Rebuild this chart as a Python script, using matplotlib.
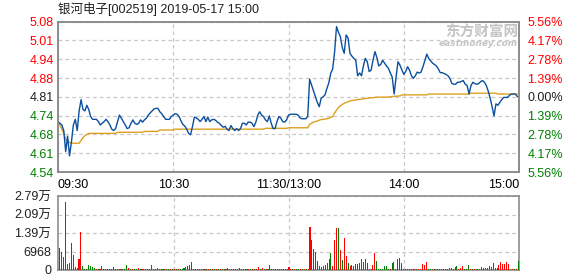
import matplotlib
matplotlib.use("Agg")
import matplotlib.pyplot as plt
import numpy as np

FONT = ['Liberation Sans', 'Noto Sans CJK SC', 'DejaVu Sans']
plt.rcParams['font.family'] = FONT

title = "银河电子[002519] 2019-05-17 15:00"
prev_close = 4.81
pct_levels = [5.56, 4.17, 2.78, 1.39, 0.0, -1.39, -2.78, -4.17, -5.56]
price_labels = ["5.08", "5.01", "4.94", "4.88", "4.81", "4.74", "4.68", "4.61", "4.54"]
pct_labels = ["5.56%", "4.17%", "2.78%", "1.39%", "0.00%", "1.39%", "2.78%", "4.17%", "5.56%"]
time_ticks = [0, 60, 120, 180, 240]
time_labels = ["09:30", "10:30", "11:30/13:00", "14:00", "15:00"]
vol_ticks = [0, 6968, 13936, 20904, 27872]
vol_labels = ["0", "6968", "1.39万", "2.09万", "2.79万"]

# one value per minute, 09:30 .. 15:00
price = [
    4.72, 4.716, 4.71, 4.69, 4.615, 4.67, 4.60, 4.65, 4.71, 4.73, 4.69, 4.76, 4.80, 4.765, 4.76, 4.78, 4.765, 4.74, 4.73, 4.73,
    4.73, 4.722, 4.71, 4.716, 4.722, 4.73, 4.722, 4.71, 4.695, 4.69, 4.697, 4.722, 4.745, 4.734, 4.722, 4.71, 4.697, 4.70, 4.716, 4.728,
    4.716, 4.712, 4.716, 4.728, 4.72, 4.728, 4.734, 4.745, 4.753, 4.76, 4.767, 4.769, 4.769, 4.757, 4.75, 4.74, 4.73, 4.73, 4.73, 4.74,
    4.745, 4.75, 4.748, 4.74, 4.725, 4.712, 4.706, 4.695, 4.68, 4.675, 4.704, 4.738, 4.735, 4.73, 4.722, 4.73, 4.74, 4.722, 4.738, 4.722,
    4.728, 4.73, 4.727, 4.72, 4.716, 4.708, 4.702, 4.705, 4.695, 4.69, 4.708, 4.697, 4.69, 4.697, 4.69, 4.697, 4.716, 4.716, 4.71, 4.72,
    4.72, 4.716, 4.704, 4.72, 4.745, 4.757, 4.745, 4.74, 4.728, 4.722, 4.742, 4.716, 4.697, 4.697, 4.722, 4.74, 4.734, 4.722, 4.72, 4.728,
    4.745, 4.748, 4.748, 4.748, 4.748, 4.745, 4.735, 4.732, 4.732, 4.732, 4.74, 4.873, 4.852, 4.83, 4.81, 4.79, 4.775, 4.805, 4.81, 4.817,
    4.84, 4.86, 4.894, 4.91, 4.97, 5.06, 5.04, 5.024, 4.985, 4.965, 5.03, 5.02, 4.965, 4.955, 4.947, 4.941, 4.885, 4.895, 4.885, 4.92,
    4.947, 4.935, 4.90, 4.905, 4.94, 4.971, 4.95, 4.92, 4.925, 4.94, 4.93, 4.92, 4.912, 4.895, 4.88, 4.82, 4.88, 4.935, 4.923, 4.906,
    4.89, 4.90, 4.917, 4.905, 4.885, 4.876, 4.885, 4.898, 4.895, 4.898, 4.917, 4.94, 4.962, 4.947, 4.938, 4.93, 4.925, 4.92, 4.91, 4.896,
    4.896, 4.893, 4.89, 4.885, 4.876, 4.858, 4.855, 4.855, 4.862, 4.862, 4.865, 4.868, 4.855, 4.85, 4.82, 4.85, 4.862, 4.857, 4.855, 4.857,
    4.864, 4.868, 4.862, 4.85, 4.83, 4.805, 4.775, 4.742, 4.785, 4.78, 4.79, 4.80, 4.808, 4.808, 4.808, 4.815, 4.82, 4.82, 4.82, 4.812,
    4.808,
]

avg_price = ([4.72, 4.71, 4.695, 4.68, 4.66, 4.652, 4.648] + [4.645] * 5
             + [4.655, 4.665, 4.672, 4.676] + [4.68] * 15 + [4.684] * 14
             + [4.687] * 8 + [4.692] * 8 + [4.695] * 47 + [4.698] * 12 + [4.70] * 11
             + [4.712, 4.716, 4.72, 4.722, 4.724, 4.727, 4.729, 4.73, 4.731, 4.732,
                4.734, 4.737, 4.74, 4.752, 4.763, 4.772, 4.778, 4.783, 4.787, 4.79,
                4.792, 4.795, 4.797, 4.798, 4.799, 4.80, 4.801, 4.802, 4.803, 4.804,
                4.805, 4.806, 4.807, 4.807, 4.808]
             + [4.809] * 6 + [4.81, 4.81, 4.811, 4.812, 4.812, 4.813, 4.813]
             + [4.817] * 14 + [4.82] * 22 + [4.823] * 14 + [4.82] * 12)

volume = [
    8300, 6900, 5000, 25600, 2260, 2760, 10300, 5650, 1000, 600, 4140, 14430, 1500, 500, 400, 1880, 1500, 1000, 750, 500,
    400, 400, 1500, 400, 400, 400, 400, 400, 1100, 400, 400, 400, 400, 400, 400, 1880, 750, 400, 400, 400,
    400, 750, 400, 400, 400, 400, 400, 400, 1880, 400, 400, 750, 400, 400, 400, 400, 400, 400, 400, 400,
    400, 400, 400, 400, 400, 750, 1000, 1500, 1760, 3130, 400, 400, 400, 400, 400, 400, 400, 400, 400, 400,
    400, 400, 400, 400, 400, 400, 400, 400, 750, 400, 400, 400, 400, 400, 750, 400, 400, 400, 400, 400,
    400, 400, 400, 400, 1000, 400, 750, 400, 400, 400, 1880, 400, 400, 400, 400, 400, 400, 400, 400, 400,
    1000, 400, 400, 400, 400, 400, 400, 400, 400, 400, 400, 16300, 11300, 8030, 6900, 3510, 1500, 1000, 1500, 1760,
    2760, 4270, 6530, 1500, 11300, 15940, 15940, 7530, 3770, 12050, 5270, 2510, 1500, 1880, 1500, 2260, 2260, 2760, 4140, 3140,
    4140, 2760, 400, 500, 1880, 6400, 3510, 400, 400, 400, 1500, 1500, 400, 400, 2760, 3010, 400, 4140, 4640, 2760,
    500, 400, 400, 400, 400, 400, 400, 400, 400, 400, 2260, 1880, 3140, 400, 400, 400, 400, 400, 400, 400,
    400, 400, 400, 400, 750, 750, 400, 1000, 1500, 500, 750, 1500, 400, 400, 1880, 400, 400, 400, 400, 400,
    400, 1000, 750, 750, 750, 1500, 1000, 2760, 750, 750, 1880, 3140, 2260, 2260, 3140, 2260, 400, 400, 400, 400,
    3510,
]
# R = up minute, G = down minute
vol_dir = ("GRGGRGGRRRRRGGGGGGGR" "GRRRGGGGGGRGRGGGRGRG" "GRGRGRGRRGRRGRGRGGRG"
           "RGRGGGGGGRGRGRRGRGRG" "RGRGRGGRGRGRGGRGRRGR" "GRGRRGRGRGRGRGRRGRGR"
           "RRGRGGRGRGRRGGGGRGRR" "RGGRRRGRGRRGRRGGGRGR" "RGRRRRGGGGGGGRGGGRGG"
           "RGRGRGRGRRRRRGGRGGGR" "GGRGGGGGGRRRGGGRGRGR" "GRGGGGGGRRRRRRRRGRGR" "G")

RED = '#ff0000'
GREEN = '#008000'
GRID = dict(color='#c8c8c8', linestyle=(0, (3, 2.5)), linewidth=0.9)

minutes = np.arange(len(price))
levels = [prev_close * (1 + p / 100) for p in pct_levels]
lo, hi = levels[-1], levels[0]

fig = plt.figure(figsize=(5.78, 2.76), dpi=100)
ax = fig.add_axes([58 / 578, 1 - 172 / 276, 461 / 578, 150.3 / 276])
axv = fig.add_axes([58 / 578, 1 - 270 / 276, 461 / 578, 74 / 276])

ax.plot(minutes, avg_price, color='#dca01e', lw=1.0, zorder=3)
ax.plot(minutes, price, color='#0a4fa0', lw=1.0, zorder=4)
ax.set_xlim(0, 240)
ax.set_ylim(lo, hi)

ax.set_yticks(levels)
ax.set_yticklabels(price_labels)
for i, lab in enumerate(ax.get_yticklabels()):
    lab.set_color(RED if pct_levels[i] > 0 else (GREEN if pct_levels[i] < 0 else '#202020'))
ax.set_xticks(time_ticks)
ax.set_xticklabels(time_labels)
xl = ax.get_xticklabels()
xl[0].set_ha('left')
xl[-1].set_ha('right')
ax.tick_params(axis='both', length=0, labelsize=9)
ax.tick_params(axis='y', pad=3)
ax.tick_params(axis='x', pad=5)
ax.grid(True, **GRID)

ax2 = ax.twinx()
ax2.set_ylim(lo, hi)
ax2.set_yticks(levels)
ax2.set_yticklabels(pct_labels)
for i, lab in enumerate(ax2.get_yticklabels()):
    lab.set_color(RED if pct_levels[i] > 0 else (GREEN if pct_levels[i] < 0 else '#202020'))
ax2.tick_params(axis='y', length=0, labelsize=9, pad=6)

# watermark
ax.text(0.998, 0.935, "东方财富网", transform=ax.transAxes, ha='right', va='center',
        fontsize=10.5, fontweight='bold', color='#c4c4c4', family=FONT[1:], zorder=1)
ax.text(0.998, 0.855, "eastmoney.com", transform=ax.transAxes, ha='right', va='center',
        fontsize=6.5, fontweight='bold', style='italic', color='#c4c4c4',
        family='DejaVu Sans', zorder=1)

bar_colors = [RED if d == 'R' else GREEN for d in vol_dir]
axv.bar(minutes, volume, width=0.55, color=bar_colors, linewidth=0, antialiased=False, zorder=3)
axv.set_xlim(-1, 240.5)
axv.set_ylim(0, vol_ticks[-1])
axv.set_xticks(time_ticks[1:-1])
axv.set_xticklabels([])
axv.set_yticks(vol_ticks)
axv.set_yticklabels(vol_labels)
axv.tick_params(axis='both', length=0, labelsize=9, labelcolor='#202020')
axv.tick_params(axis='y', pad=5)
axv.grid(True, **GRID)

for a in (ax, ax2, axv):
    for s in a.spines.values():
        s.set_color('#8c8c8c')
        s.set_linewidth(1.2)

fig.text(58 / 578, 1 - 8.5 / 276, title, ha='left', va='center', fontsize=9, color='#202020')

fig.savefig('out.png', dpi=100)
